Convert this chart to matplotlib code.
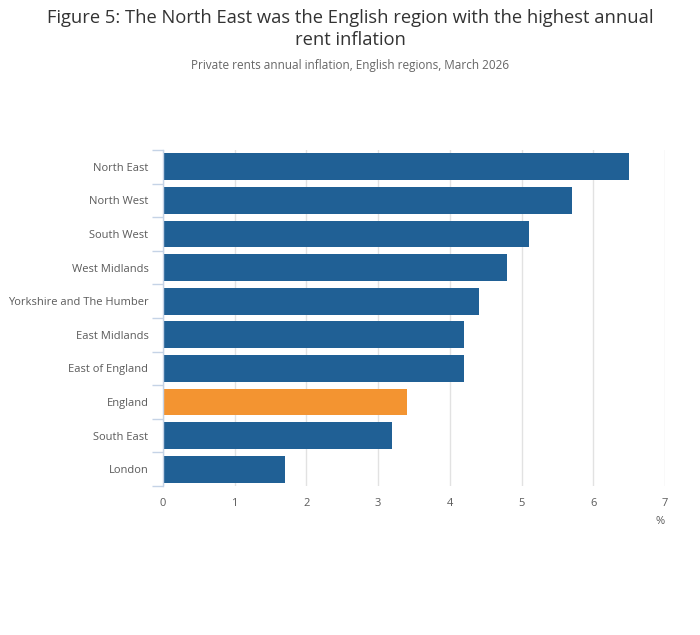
import matplotlib
matplotlib.use("Agg")
import matplotlib.pyplot as plt
import numpy as np

regions = ["North East", "North West", "South West", "West Midlands",
           "Yorkshire and The Humber", "East Midlands", "East of England",
           "England", "South East", "London"]
values = [6.5, 5.7, 5.1, 4.8, 4.4, 4.2, 4.2, 3.4, 3.2, 1.7]
highlight = "England"
x_ticks = [0, 1, 2, 3, 4, 5, 6, 7]

BLUE = "#206095"
ORANGE = "#F39431"
TEXT = "#5b5b5b"

plt.rcParams['font.family'] = ['Open Sans', 'DejaVu Sans']

fig = plt.figure(figsize=(7, 6.35), dpi=100)
ax = fig.add_axes([163/700, 1-486/635, (665-163)/700, (486-150)/635])

y = np.arange(len(regions))
colors = [ORANGE if r == highlight else BLUE for r in regions]
ax.barh(y, values, height=0.8, color=colors, zorder=3)

ax.set_ylim(len(regions) - 0.5, -0.5)
ax.set_xlim(0, 7)
ax.set_xticks(x_ticks)
ax.set_xticklabels([str(t) for t in x_ticks])
ax.set_yticks(y)
ax.set_yticklabels(regions)
ax.set_yticks(np.arange(-0.5, len(regions), 1), minor=True)

ax.tick_params(axis='y', which='major', length=0, pad=10.5, labelsize=8, labelcolor=TEXT)
ax.tick_params(axis='y', which='minor', length=8, width=1, color="#c5d3e6")
ax.tick_params(axis='x', which='major', length=0, pad=9, labelsize=8, labelcolor=TEXT)

ax.grid(axis='x', color="#e2e2e2", linewidth=1, zorder=0)
for s in ['top', 'right', 'bottom']:
    ax.spines[s].set_visible(False)
ax.spines['left'].set_color("#c5d3e6")
ax.spines['left'].set_linewidth(1)
ax.spines['left'].set_zorder(4)

fig.text(665/700, 1-522/635, "%", ha='right', va='center', fontsize=8, color=TEXT)

fig.text(0.5, 1-29/635, "Figure 5: The North East was the English region with the highest annual\nrent inflation",
         ha='center', va='center', fontsize=13.2, color="#333333", linespacing=1.25)
fig.text(0.5, 1-65/635, "Private rents annual inflation, English regions, March 2026",
         ha='center', va='center', fontsize=8.5, color="#666666")

fig.savefig("out.png", dpi=100, facecolor="white")
